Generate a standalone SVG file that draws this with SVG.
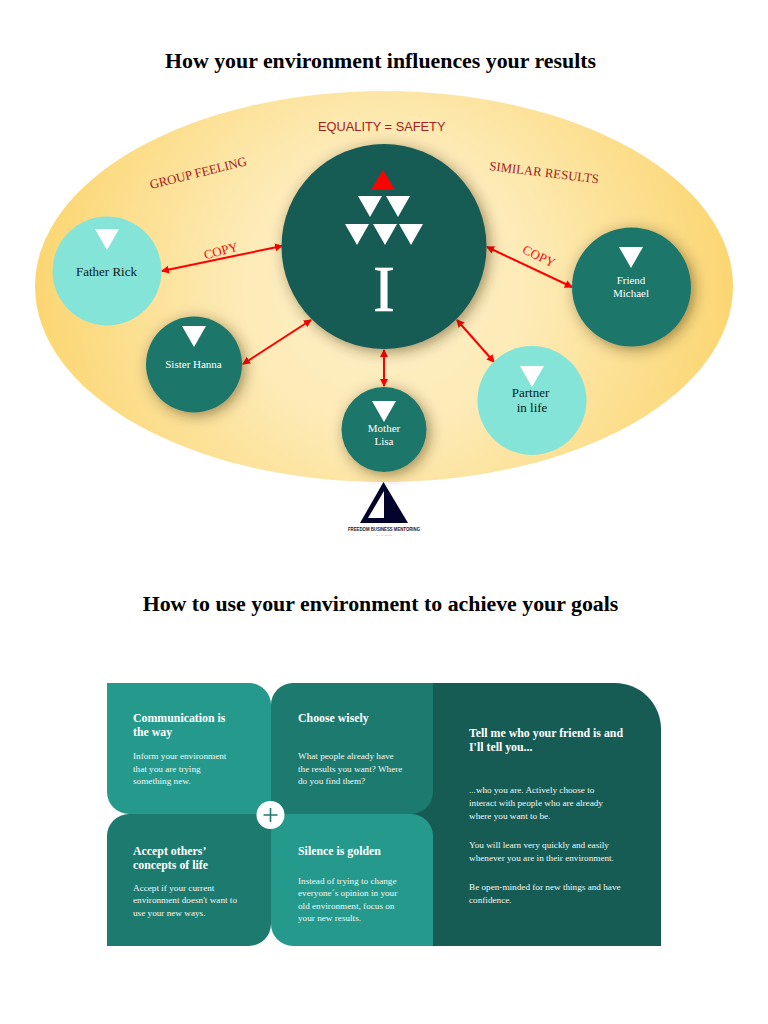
<svg xmlns="http://www.w3.org/2000/svg" width="768" height="1024" viewBox="0 0 768 1024">
<style>
text{font-family:"Liberation Serif","Times New Roman",serif}
.title{font-size:21.850px;font-weight:700;fill:#000;text-anchor:middle}
.red{fill:#a5211e;font-size:12.800px}
.copy{fill:#f01010;font-size:13px;text-anchor:middle}
.lab{font-size:11px;fill:#fff;text-anchor:middle}
.dk{font-size:13px;fill:#0a1a18;text-anchor:middle}
.h{font-size:11.850px;font-weight:700;fill:#fff}
.b{font-size:9.200px;fill:#f2f7f6}
.tri{fill:#fff}
.ln{stroke:#f00;stroke-width:2;fill:none;marker-start:url(#a);marker-end:url(#a)}
.dark{fill:#165c54}.mid{fill:#1b766b}.lt{fill:#84e4d8}
</style>
<defs>
<radialGradient id="g" gradientUnits="userSpaceOnUse" cx="384" cy="286" r="349"><stop offset="0" stop-color="#fef1c8"/><stop offset="0.4" stop-color="#fdebb8"/><stop offset="1" stop-color="#fbd672"/></radialGradient>
<filter id="s" x="-30%" y="-30%" width="170%" height="170%"><feDropShadow dx="3" dy="3" stdDeviation="7" flood-color="#3a2a00" flood-opacity=".5"/></filter>
<marker id="a" viewBox="0 0 8 8" refX="7" refY="4" markerWidth="4" markerHeight="4" orient="auto-start-reverse" markerUnits="strokeWidth"><path d="M0 0L8 4L0 8Z" fill="#f00"/></marker>
</defs>
<text class="title" x="380.500" y="67.500">How your environment influences your results</text>
<g id="environment"><ellipse cx="384" cy="286.500" rx="349" ry="195.500" fill="url(#g)"/>
<text x="318" y="130.500" style="font-family:'Liberation Sans',Arial,sans-serif;font-size:12.800px;fill:#a5211e">EQUALITY = SAFETY</text>
<text class="red" transform="translate(151 189) rotate(-14)">GROUP FEELING</text>
<text class="red" transform="translate(489 170) rotate(7)">SIMILAR RESULTS</text></g>
<g id="connectors">
<line class="ln" x1="162" y1="271" x2="282" y2="246"/>
<line class="ln" x1="487" y1="247" x2="572" y2="287"/>
<line class="ln" x1="243" y1="364" x2="311" y2="320"/>
<line class="ln" x1="384" y1="350" x2="384" y2="386"/>
<line class="ln" x1="457" y1="320" x2="494" y2="362"/>
<text class="copy" transform="translate(222 255) rotate(-15)">COPY</text>
<text class="copy" transform="translate(537 260) rotate(26)">COPY</text>
</g>
<g id="node-i"><circle class="dark" cx="384" cy="246.500" r="102.500" filter="url(#s)"/>
<path d="M383 170L395 190H371Z" fill="#f00"/>
<path class="tri" d="M358 196H382L370 217ZM386 196H410L398 217ZM345 224H369L357 245ZM373 224H397L385 245ZM399 224H423L411 245Z"/>
<text x="384" y="310.500" text-anchor="middle" style="font-size:66px;fill:#fff;stroke:#fff;stroke-width:.6">I</text></g>
<g id="node-father"><circle class="lt" cx="107" cy="271" r="54.500"/><path class="tri" d="M95 229H119L107 250Z"/><text class="dk" x="106.500" y="276">Father Rick</text></g>
<g id="node-sister"><circle class="mid" cx="194" cy="364.500" r="48" filter="url(#s)"/><path class="tri" d="M182 326H206L194 347Z"/><text class="lab" x="193.500" y="368">Sister Hanna</text></g>
<g id="node-mother"><circle class="mid" cx="384" cy="429.500" r="42.500" filter="url(#s)"/><path class="tri" d="M372 401H396L384 422Z"/><text class="lab" x="384" y="432">Mother</text><text class="lab" x="384" y="445">Lisa</text></g>
<g id="node-partner"><circle class="lt" cx="532" cy="400.500" r="54.500"/><path class="tri" d="M520 366H544L532 387Z"/><text class="dk" x="530.500" y="397">Partner</text><text class="dk" x="532" y="412">in life</text></g>
<g id="node-friend"><circle class="mid" cx="631.500" cy="287" r="59.500" filter="url(#s)"/><path class="tri" d="M619 247H643L631 268Z"/><text class="lab" x="631" y="284">Friend</text><text class="lab" x="631" y="297">Michael</text></g>
<g id="logo"><path d="M383.500 482L408 523H360Z" fill="#03032b"/><path d="M384 491L368 518H384Z" fill="#fff"/>
<text x="348" y="531" textLength="72" lengthAdjust="spacingAndGlyphs" style="font-family:'Liberation Sans',Arial,sans-serif;font-size:5.500px;font-weight:700;fill:#14142f">FREEDOM BUSINESS MENTORING</text>
<text x="384" y="536" text-anchor="middle" style="font-family:'Liberation Sans',Arial,sans-serif;font-size:2.500px;fill:#aaa">by Alex Torrich</text></g>
<text class="title" x="380.500" y="610.500">How to use your environment to achieve your goals</text>
<g id="panel-main"><path class="dark" d="M400 683H615A46 46 0 0 1 661 729V946H400Z"/>
<text class="h" x="469" y="737">Tell me who your friend is and</text><text class="h" x="469" y="751">I'll tell you...</text>
<text class="b" x="469" y="793">...who you are. Actively choose to</text><text class="b" x="469" y="806">interact with people who are already</text><text class="b" x="469" y="819">where you want to be.</text>
<text class="b" x="469" y="848">You will learn very quickly and easily</text><text class="b" x="469" y="861">whenever you are in their environment.</text>
<text class="b" x="469" y="890">Be open-minded for new things and have</text><text class="b" x="469" y="903">confidence.</text></g>
<g id="card-communication"><path fill="#259a8c" d="M107 683H249A22 22 0 0 1 271 705V814H129A22 22 0 0 1 107 792Z"/>
<text class="h" x="133" y="722">Communication is</text><text class="h" x="133" y="736">the way</text>
<text class="b" x="133" y="759">Inform your environment</text><text class="b" x="133" y="772">that you are trying</text><text class="b" x="133" y="784">something new.</text></g>
<g id="card-choose"><path fill="#1d7a6e" d="M293 683H433V792A22 22 0 0 1 411 814H271V705A22 22 0 0 1 293 683Z"/>
<text class="h" x="298" y="722">Choose wisely</text>
<text class="b" x="298" y="759">What people already have</text><text class="b" x="298" y="772">the results you want? Where</text><text class="b" x="298" y="784">do you find them?</text></g>
<g id="card-accept"><path fill="#1d7a6e" d="M129 814H271V924A22 22 0 0 1 249 946H107V836A22 22 0 0 1 129 814Z"/>
<text class="h" x="133" y="855">Accept others’</text><text class="h" x="133" y="869">concepts of life</text>
<text class="b" x="133" y="891">Accept if your current</text><text class="b" x="133" y="903">environment doesn't want to</text><text class="b" x="133" y="916">use your new ways.</text></g>
<g id="card-silence"><path fill="#259a8c" d="M271 814H411A22 22 0 0 1 433 836V946H293A22 22 0 0 1 271 924Z"/>
<text class="h" x="298" y="855">Silence is golden</text>
<text class="b" x="298" y="884">Instead of trying to change</text><text class="b" x="298" y="896">everyone´s opinion  in your</text><text class="b" x="298" y="909">old environment, focus on</text><text class="b" x="298" y="921">your new results.</text></g>
<g id="plus"><circle cx="270.500" cy="815" r="14" fill="#fff"/><path d="M270.500 808V822M263.500 815H277.500" stroke="#1d7a6e" stroke-width="1.600" fill="none"/></g>
</svg>
